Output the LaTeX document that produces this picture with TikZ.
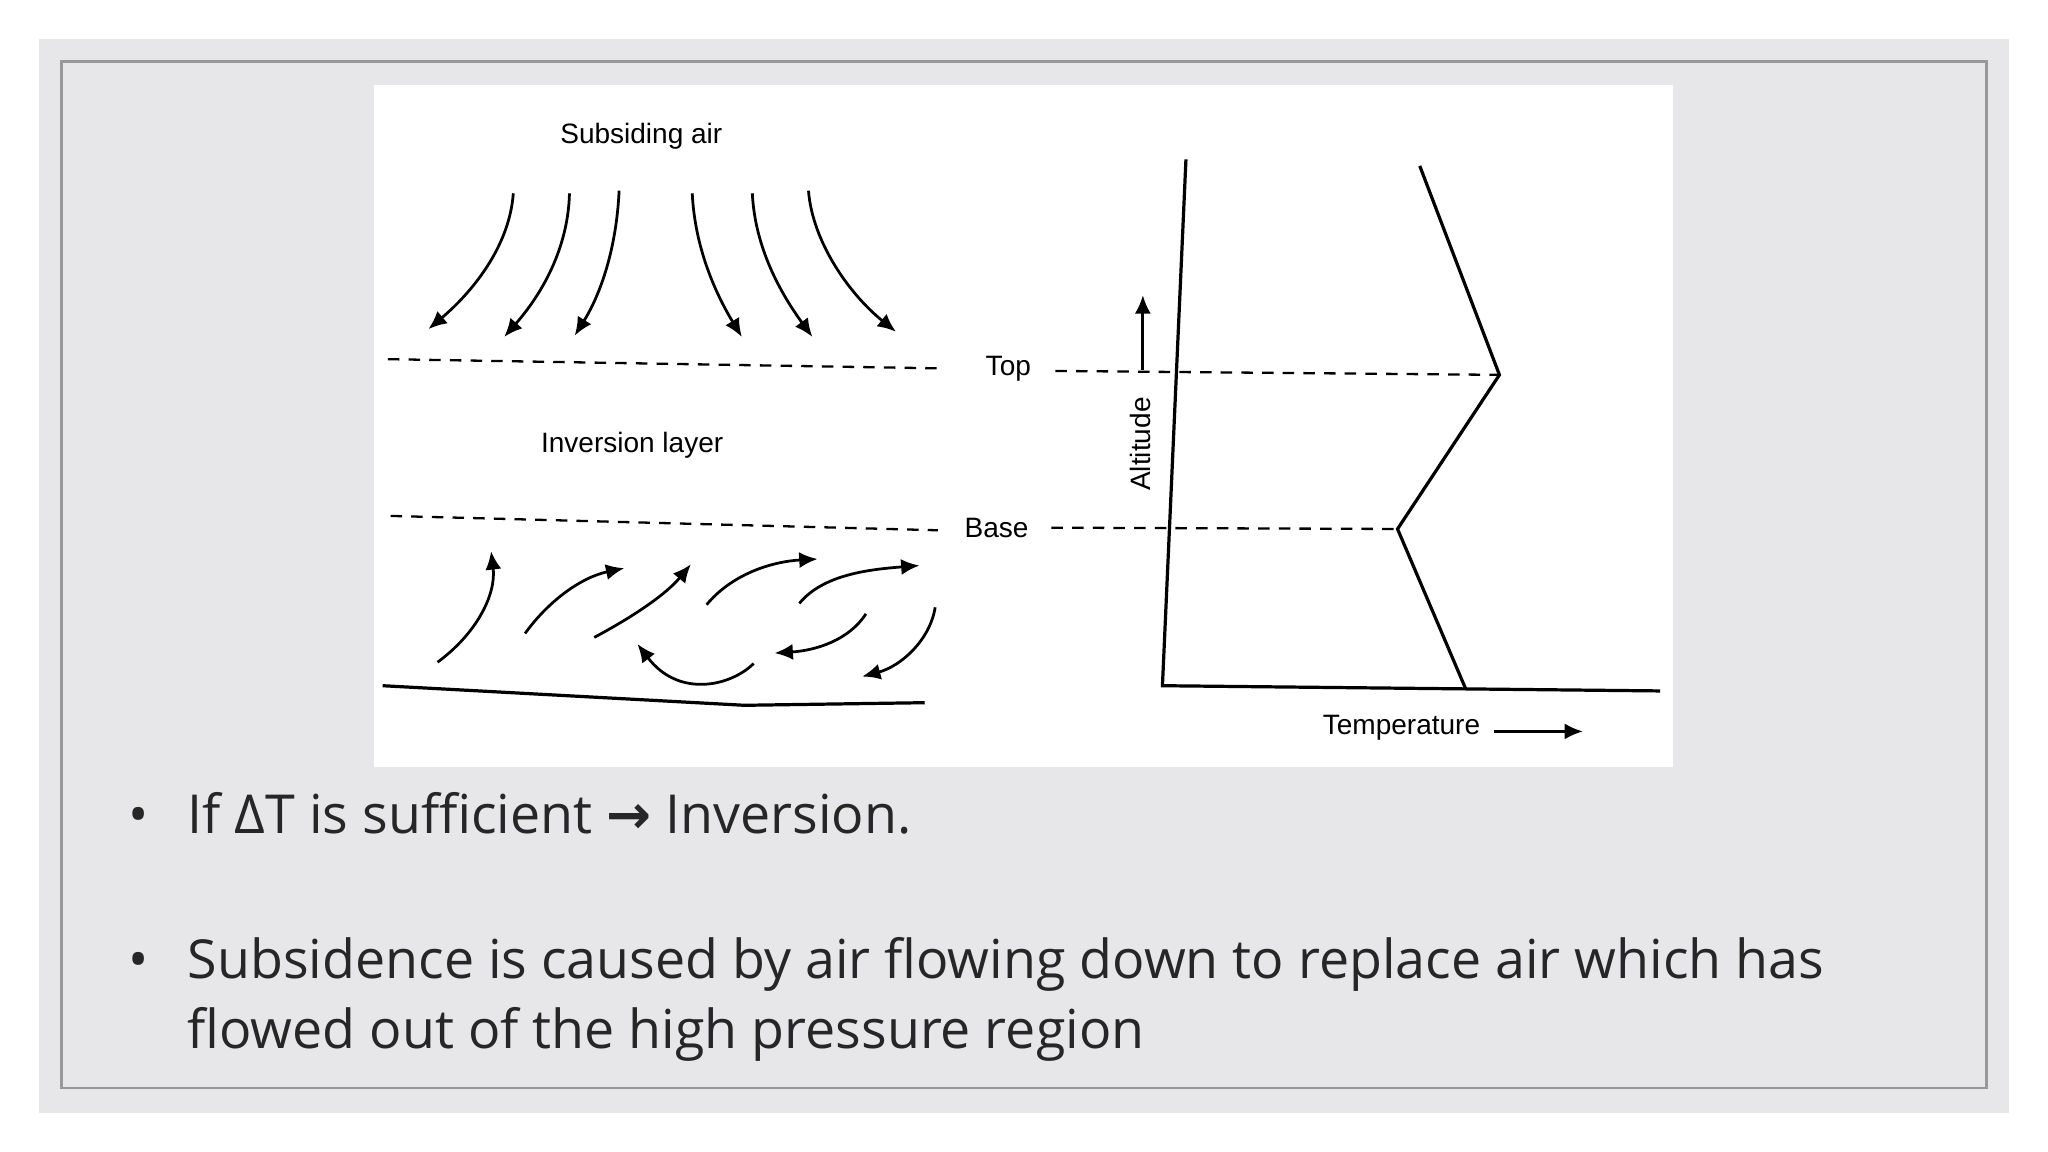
\documentclass[tikz,border=0pt]{standalone}
\usepackage{fontspec}
\setmainfont{Open Sans}
\newfontfamily\diag{Liberation Sans}
\newfontfamily\sym{DejaVu Sans}
\usetikzlibrary{arrows.meta}
\definecolor{slide}{HTML}{E7E6E8}
\tikzset{
  arr/.style={line width=0.6pt,-{Latex[length=4pt,width=3.5pt]}},
  dashln/.style={line width=0.5pt,dash pattern=on 2.5pt off 2pt},
  lab/.style={font=\diag\fontsize{6.1}{7}\selectfont,inner sep=0pt},
  bul/.style={font=\fontsize{11.7}{15}\selectfont,anchor=base west,inner sep=0pt,text=black!85},
}
\begin{document}
\begin{tikzpicture}[x=0.01cm,y=-0.01cm]
\useasboundingbox (0,0) rectangle (1568,882);
\fill[white] (0,0) rectangle (1568,882);
\fill[slide] (30,30) rectangle (1538,852);
\draw[gray!80,line width=0.6pt] (47,47) rectangle (1521,833);
\fill[white] (286,65) rectangle (1281,587);
% labels
\node[lab] (sa) at (491,104) {Subsiding air};
\node[lab] (il) at (484,341) {Inversion layer};
\node[lab] (top) at (772,282) {Top};
\node[lab] (base) at (763,404) {Base};
\node[lab,rotate=90] (alt) at (873,340) {Altitude};
\node[lab] (temp) at (1073,557) {Temperature};
% subsiding arrows
\draw[arr] (393,148) .. controls (390,190) and (360,225) .. (328,252);
\draw[arr] (436,148) .. controls (435,190) and (415,225) .. (386,258);
\draw[arr] (474,146) .. controls (472,190) and (460,225) .. (440,257);
\draw[arr] (530,148) .. controls (532,190) and (548,225) .. (568,258);
\draw[arr] (576,148) .. controls (578,190) and (598,225) .. (622,258);
\draw[arr] (619,146) .. controls (622,185) and (650,225) .. (686,254);
% layer lines
\draw[dashln] (297,275) -- (718,282);
\draw[dashln] (299,395) -- (718,406);
\coordinate (tp) at (1148,287);
\coordinate (bp) at (1070,405);
\draw[dashln] (808,284) -- (tp);
\draw[dashln] (805,404) -- (bp);
% axes
\draw[line width=0.7pt] (908,122) -- (890,525) -- (1271,529);
\draw[line width=0.7pt] (1087,127) -- (tp) -- (bp) -- (1122,527);
\draw[arr] (875,283) -- (875,226);
\draw[arr] (1144,560) -- (1212,560);
% ground
\draw[line width=0.7pt] (293,525) -- (570,540) -- (708,538);
% eddies
\draw[arr] (335,507) .. controls (365,485) and (380,455) .. (376,422);
\draw[arr] (402,485) .. controls (420,460) and (445,442) .. (478,435);
\draw[arr] (455,488) .. controls (485,472) and (510,455) .. (529,432);
\draw[arr] (541,463) .. controls (560,440) and (590,430) .. (626,428);
\draw[arr] (612,462) .. controls (630,440) and (665,436) .. (704,433);
\draw[arr] (716,465) .. controls (712,490) and (690,510) .. (660,518);
\draw[arr] (663,470) .. controls (650,490) and (625,498) .. (593,500);
\draw[arr] (577,508) .. controls (560,525) and (520,535) .. (488,493);
% bullets
\node[bul] (b1t) at (98,638) {•};
\node[bul] (l1) at (143,638) {If ΔT is sufficient {\sym\bfseries →} Inversion.};
\node[bul] (b2t) at (98,749) {•};
\node[bul] (l2) at (143,749) {Subsidence is caused by air flowing down to replace air which has};
\node[bul] (l3) at (143,803) {flowed out of the high pressure region};
\end{tikzpicture}
\end{document}
